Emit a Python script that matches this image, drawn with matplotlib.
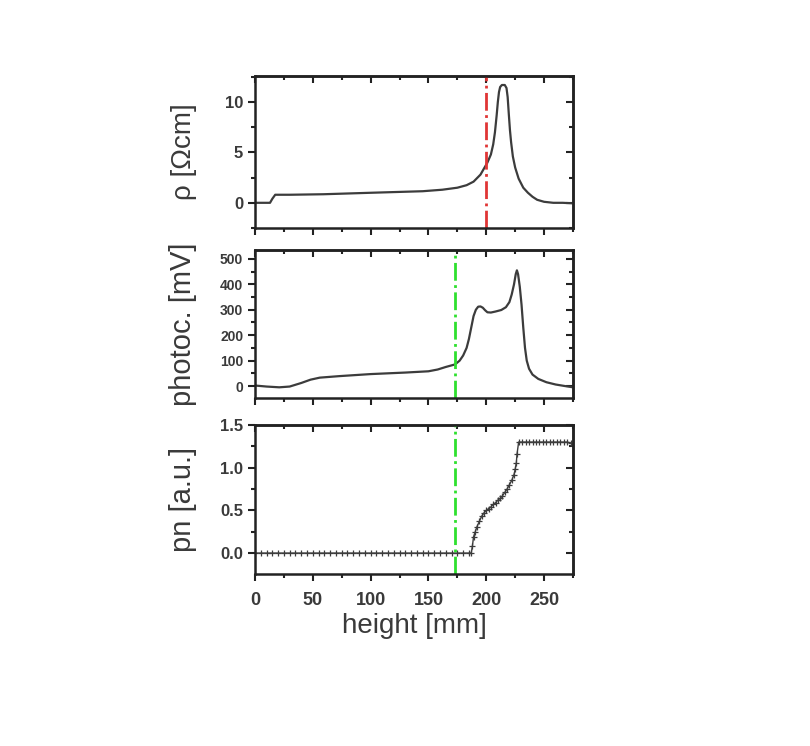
import matplotlib
matplotlib.use("Agg")
import matplotlib.pyplot as plt
from matplotlib.ticker import MultipleLocator

plt.rcParams['font.family'] = ['Liberation Sans', 'DejaVu Sans']

# resistivity
rho_x = [0, 13, 15, 17.5, 30, 59, 101, 145, 162, 175, 183, 189, 195, 201, 204, 206,
         207.5, 209, 210, 211, 212, 213.5, 216, 217.5, 218.5, 219.5, 220.5, 221.5, 223,
         225, 228, 232, 236, 240, 244, 250, 258, 266, 275]
rho_y = [0, 0, 0.4, 0.8, 0.8, 0.85, 1.0, 1.15, 1.3, 1.5, 1.75, 2.1, 2.8, 4.0, 4.8, 5.8,
         7.0, 8.7, 10.0, 11.0, 11.5, 11.7, 11.7, 11.4, 10.5, 8.8, 7.2, 6.0, 4.6,
         3.5, 2.4, 1.5, 1.0, 0.6, 0.3, 0.1, 0.0, 0.0, -0.05]

# photoconductivity
pc_x = [0, 10, 21, 30, 40, 48, 56, 73, 100, 130, 150, 158, 165, 173, 177, 180, 183,
        185, 187, 189, 191, 193, 195, 197, 199, 201, 204, 208, 213, 217, 220, 222, 224,
        225.5, 226.5, 227.5, 229, 230.5, 232, 233.5, 235, 237, 240, 245, 252, 260, 268, 275]
pc_y = [2, -2, -5, -2, 12, 25, 33, 39, 47, 53, 58, 65, 75, 85, 100, 120, 150,
        185, 230, 275, 300, 312, 313, 308, 298, 290, 289, 293, 299, 310, 330, 360, 400,
        440, 455, 440, 390, 320, 230, 150, 100, 68, 45, 28, 15, 6, 0, -5]

# pn
pn_x = [0, 5, 10, 15, 20, 25, 30, 35, 40, 45, 50, 55, 60, 65, 70, 75, 80, 85, 90, 95,
        100, 105, 110, 115, 120, 125, 130, 135, 140, 145, 150, 155, 160, 165, 170, 175,
        180, 185, 187, 188, 189, 190.5, 192, 194, 196, 198, 200, 202, 204, 206, 208,
        210, 212, 214, 216, 218, 220, 222, 224, 225, 226, 226.6,
        228, 231, 234, 237, 240, 243, 246, 249, 252, 255, 258, 261, 264, 267, 270, 273, 275]
pn_y = [0.0] * 38 + [0.0, 0.08, 0.19, 0.25, 0.31, 0.37, 0.43, 0.47, 0.50, 0.52, 0.54,
        0.57, 0.59, 0.62, 0.64, 0.67, 0.71, 0.75, 0.80, 0.85, 0.92, 0.98, 1.06, 1.16,
        1.30, 1.30, 1.30, 1.30, 1.30, 1.30, 1.30, 1.30, 1.30, 1.30, 1.30, 1.30, 1.30,
        1.30, 1.30, 1.29, 1.27]

x_red = 200
x_green = 173

line_col = '#3c3c3c'
txt_col = '#3a3a3a'

fig = plt.figure(figsize=(8.1, 7.46), dpi=100)
ax1 = fig.add_axes([0.3148, 0.6944, 0.3926, 0.2038])
ax2 = fig.add_axes([0.3148, 0.4665, 0.3926, 0.1984])
ax3 = fig.add_axes([0.3148, 0.2306, 0.3926, 0.1997])

ax1.plot(rho_x, rho_y, color=line_col, lw=1.6)
ax1.axvline(x_red, color='#e03535', lw=2, linestyle='-.')
ax1.set_ylim(-2.5, 12.6)
ax1.yaxis.set_major_locator(MultipleLocator(5))
ax1.yaxis.set_minor_locator(MultipleLocator(2.5))
ax1.set_ylabel('ρ [Ωcm]', fontsize=20, color=txt_col)

ax2.plot(pc_x, pc_y, color=line_col, lw=1.6)
ax2.axvline(x_green, color='#2ee02e', lw=2, linestyle='-.')
ax2.set_ylim(-47, 535)
ax2.yaxis.set_major_locator(MultipleLocator(100))
ax2.yaxis.set_minor_locator(MultipleLocator(50))
ax2.set_ylabel('photoc. [mV]', fontsize=21, color=txt_col)

ax3.plot(pn_x, pn_y, color=line_col, lw=1.0, marker='+', ms=4, mew=0.9)
ax3.axvline(x_green, color='#2ee02e', lw=2, linestyle='-.')
ax3.set_ylim(-0.245, 1.5)
ax3.yaxis.set_major_locator(MultipleLocator(0.5))
ax3.yaxis.set_minor_locator(MultipleLocator(0.25))
ax3.yaxis.set_major_formatter(plt.FormatStrFormatter('%.1f'))
ax3.set_ylabel('pn [a.u.]', fontsize=21, color=txt_col)
ax3.set_xlabel('height [mm]', fontsize=20, color=txt_col, labelpad=3)

for ax in (ax1, ax2, ax3):
    ax.set_xlim(0, 275)
    ax.xaxis.set_major_locator(MultipleLocator(50))
    ax.xaxis.set_minor_locator(MultipleLocator(25))
    ax.yaxis.set_label_coords(-0.182, 0.5)
    for s in ax.spines.values():
        s.set_linewidth(1.8)
        s.set_color('#222222')
    ax.tick_params(which='both', direction='out', width=1.5, color='#222222',
                   labelcolor=txt_col)
    ax.tick_params(which='major', length=5)
    ax.tick_params(which='minor', length=3)
    ax.tick_params(axis='x', labelsize=13, pad=8)
    ax.tick_params(axis='y', labelsize=12)
    if ax is not ax3:
        ax.tick_params(labelbottom=False)

ax2.tick_params(axis='y', labelsize=10)

# inward ticks on top and right
for ax in (ax1, ax2, ax3):
    top = ax.secondary_xaxis('top')
    top.set_xticks(ax.get_xticks())
    top.xaxis.set_minor_locator(MultipleLocator(25))
    top.tick_params(which='both', direction='in', width=1.5, color='#222222',
                    labeltop=False)
    top.tick_params(which='major', length=5)
    top.tick_params(which='minor', length=3)
    right = ax.secondary_yaxis('right')
    right.set_yticks(ax.get_yticks())
    right.yaxis.set_minor_locator(ax.yaxis.get_minor_locator())
    right.tick_params(which='both', direction='in', width=1.5, color='#222222',
                      labelright=False)
    right.tick_params(which='major', length=5)
    right.tick_params(which='minor', length=3)
    for s in list(top.spines.values()) + list(right.spines.values()):
        s.set_linewidth(1.8)
        s.set_color('#222222')

for ax in (ax1, ax2, ax3):
    for lab in ax.get_yticklabels() + ax.get_xticklabels():
        lab.set_fontweight('bold')

fig.savefig('out.png', dpi=100)
